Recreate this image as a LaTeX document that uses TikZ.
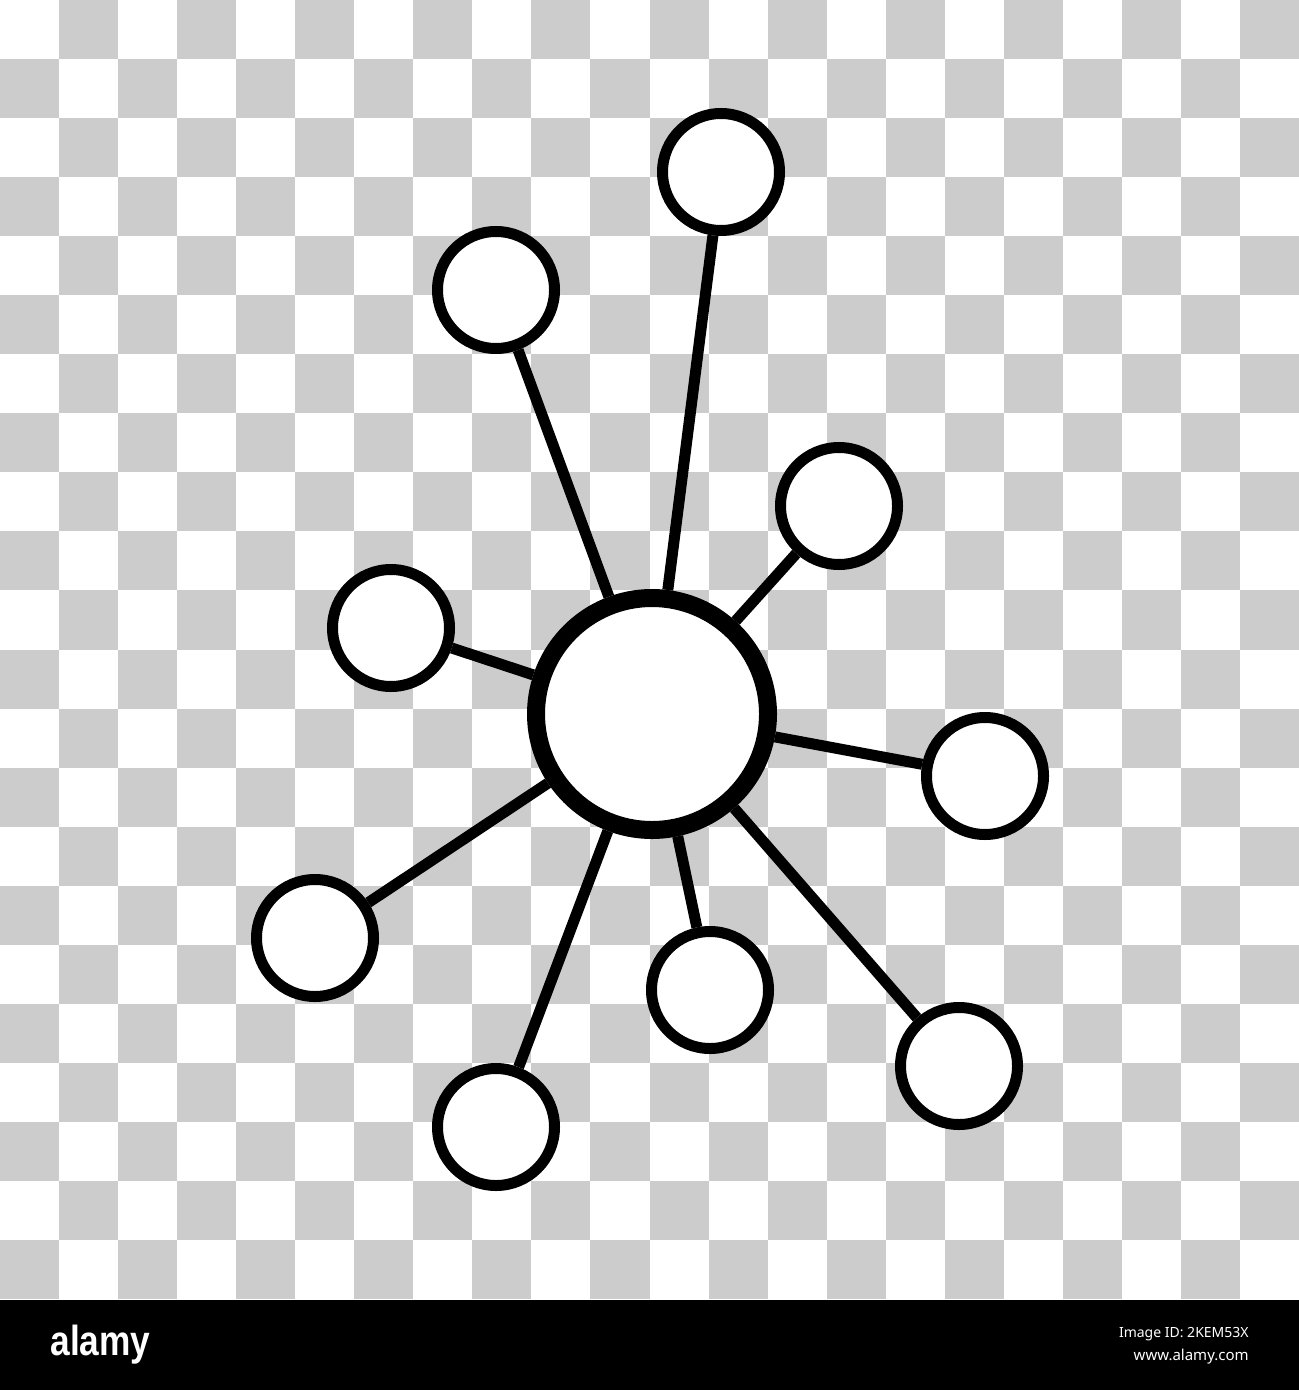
\documentclass[tikz,border=0pt]{standalone}
\usepackage{fontspec}
\setmainfont{Noto Sans}
\newfontfamily\logofont{Liberation Sans}
\usetikzlibrary{arrows.meta}
\definecolor{checker}{HTML}{CCCCCC}

\begin{document}
\begin{tikzpicture}[x=0.5pt,y=-0.5pt,line join=bevel,
  hub/.style={circle,draw=black,fill=white,line width=9pt,minimum size=116pt,inner sep=0pt},
  leaf/.style={circle,draw=black,fill=white,line width=5.5pt,minimum size=58.5pt,inner sep=0pt},
  link/.style={black,line width=5.5pt},
  caption/.style={text=white,inner sep=0pt}]
%%
\useasboundingbox (0,0) rectangle (1299,1390);
\fill[white] (0,0) rectangle (1299,1300);
\foreach \i in {0,...,21}
  \foreach \j in {0,...,21}
    {\pgfmathtruncatemacro\odd{mod(\i+\j,2)}
     \ifnum\odd=1 \fill[checker] (\i*59.045,\j*59.045) rectangle ++(59.045,59.045);\fi}
\fill[black] (0,1300) rectangle (1299,1390);
%
\node (node_0) at (652,714) [hub] {};
  \node (node_1) at (721,172) [leaf] {};
  \node (node_2) at (496,290) [leaf] {};
  \node (node_3) at (839,506) [leaf] {};
  \node (node_4) at (391,628) [leaf] {};
  \node (node_5) at (985,776) [leaf] {};
  \node (node_6) at (315,938) [leaf] {};
  \node (node_7) at (710,990) [leaf] {};
  \node (node_8) at (496,1127) [leaf] {};
  \node (node_9) at (959,1066) [leaf] {};
  \foreach \n in {1,...,9}
    \draw [link] (node_0) -- (node_\n);
%
\node (logo) at (50,1355) [caption,anchor=base west] {\logofont\bfseries\fontsize{21pt}{21pt}\selectfont\scalebox{0.84}[1]{alamy}};
  \node (image_id) at (1249,1337) [caption,anchor=base east] {\fontsize{7pt}{8pt}\selectfont Image ID: 2KEM53X};
  \node (site) at (1249,1360) [caption,anchor=base east] {\fontsize{7.5pt}{9pt}\selectfont\bfseries www.alamy.com};
%
\end{tikzpicture}
\end{document}
